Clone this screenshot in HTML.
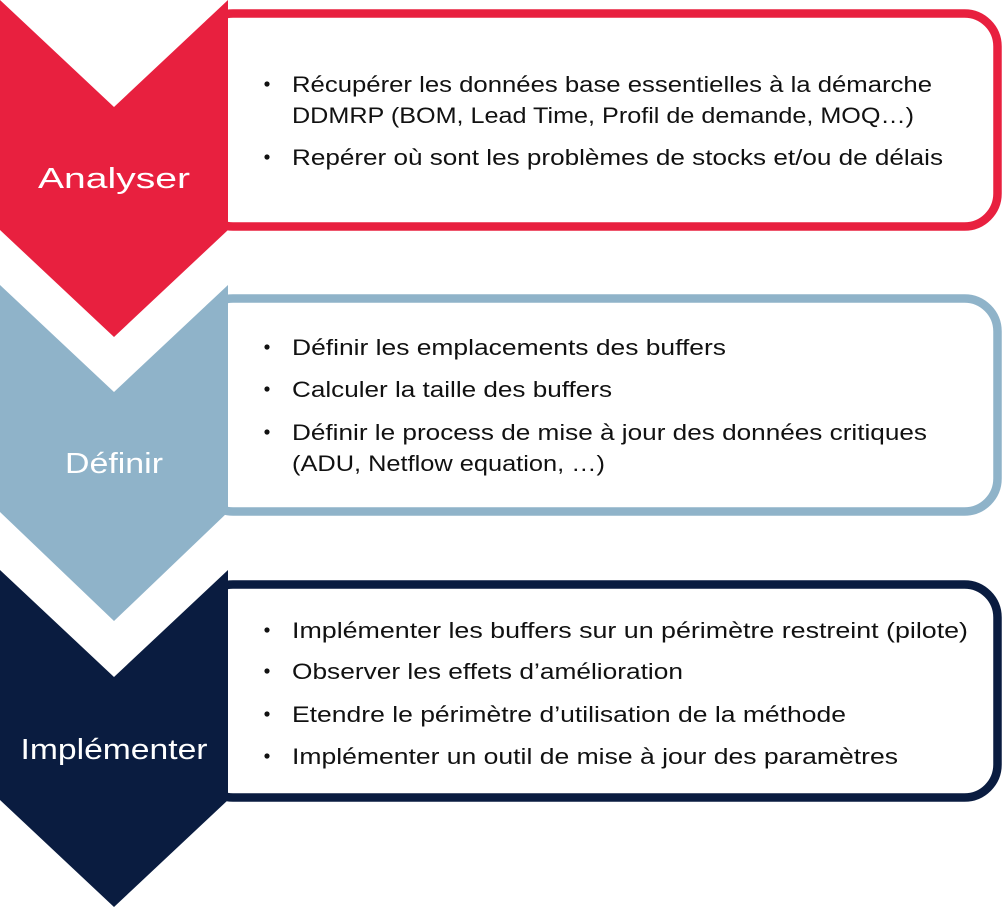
<!DOCTYPE html>
<html><head><meta charset="utf-8"><style>html,body{margin:0;padding:0;background:#fff}svg{display:block}</style></head><body>
<svg width="1002" height="907" viewBox="0 0 1002 907" xmlns="http://www.w3.org/2000/svg" font-family="Liberation Sans, sans-serif">
<rect x="200" y="13.5" width="797.5" height="213" rx="33" fill="#fff" stroke="#E8203F" stroke-width="8.5"/>
<rect x="200" y="298.5" width="797.5" height="213" rx="33" fill="#fff" stroke="#8FB3C9" stroke-width="8.5"/>
<rect x="200" y="584.5" width="797.5" height="213" rx="33" fill="#fff" stroke="#0A1C40" stroke-width="8.5"/>
<polygon points="0,0 114,107 228,0 228,230 114,337 0,230" fill="#E8203F"/>
<polygon points="0,285 114,392 228,285 228,512 114,621 0,512" fill="#8FB3C9"/>
<polygon points="0,570 114,677 228,570 228,800 114,907 0,800" fill="#0A1C40"/>
<g fill="#fff" font-size="29" text-anchor="middle">
<text x="114" y="188" textLength="152" lengthAdjust="spacingAndGlyphs">Analyser</text>
<text x="114" y="473" textLength="98" lengthAdjust="spacingAndGlyphs">Définir</text>
<text x="114" y="759" textLength="187" lengthAdjust="spacingAndGlyphs">Implémenter</text>
</g>
<g fill="#111">
<circle cx="267" cy="84" r="2.6"/><circle cx="267" cy="157" r="2.6"/>
<circle cx="267" cy="347" r="2.6"/><circle cx="267" cy="389" r="2.6"/><circle cx="267" cy="432" r="2.6"/>
<circle cx="267" cy="630" r="2.6"/><circle cx="267" cy="671" r="2.6"/><circle cx="267" cy="714" r="2.6"/><circle cx="267" cy="756" r="2.6"/>
</g>
<g fill="#111" font-size="22" lengthAdjust="spacingAndGlyphs">
<text x="292" y="92" textLength="640" lengthAdjust="spacingAndGlyphs">Récupérer les données base essentielles à la démarche</text>
<text x="292" y="123" textLength="622" lengthAdjust="spacingAndGlyphs">DDMRP (BOM, Lead Time, Profil de demande, MOQ…)</text>
<text x="292" y="165" textLength="651" lengthAdjust="spacingAndGlyphs">Repérer où sont les problèmes de stocks et/ou de délais</text>
<text x="292" y="355" textLength="434" lengthAdjust="spacingAndGlyphs">Définir les emplacements des buffers</text>
<text x="292" y="397" textLength="320" lengthAdjust="spacingAndGlyphs">Calculer la taille des buffers</text>
<text x="292" y="440" textLength="635" lengthAdjust="spacingAndGlyphs">Définir le process de mise à jour des données critiques</text>
<text x="292" y="471" textLength="313" lengthAdjust="spacingAndGlyphs">(ADU, Netflow equation, …)</text>
<text x="292" y="638" textLength="676" lengthAdjust="spacingAndGlyphs">Implémenter les buffers sur un périmètre restreint (pilote)</text>
<text x="292" y="679" textLength="391" lengthAdjust="spacingAndGlyphs">Observer les effets d’amélioration</text>
<text x="292" y="722" textLength="554" lengthAdjust="spacingAndGlyphs">Etendre le périmètre d’utilisation de la méthode</text>
<text x="292" y="764" textLength="606" lengthAdjust="spacingAndGlyphs">Implémenter un outil de mise à jour des paramètres</text>
</g>
</svg>
</body></html>
